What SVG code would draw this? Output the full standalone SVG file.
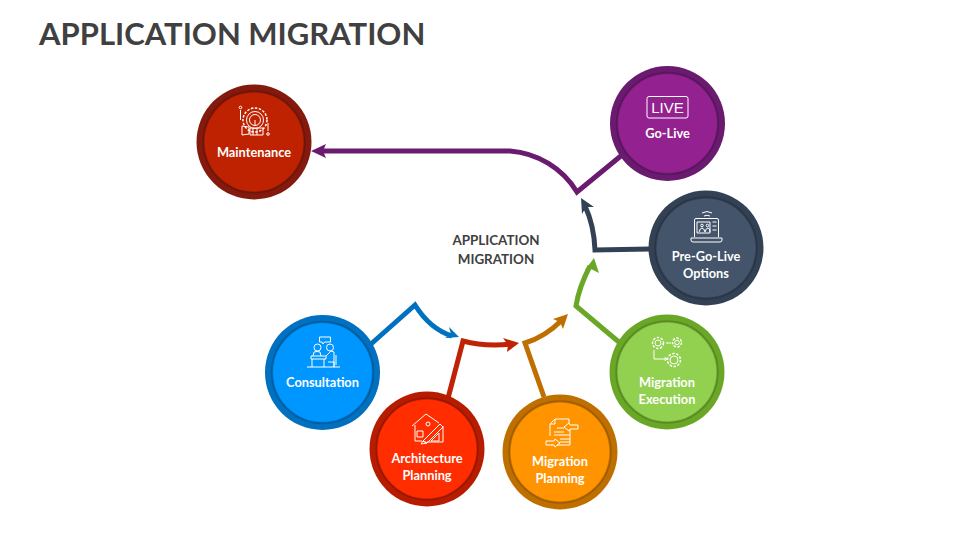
<svg xmlns="http://www.w3.org/2000/svg" width="960" height="540" viewBox="0 0 960 540">
<style>
text{font-family:"Lato","Open Sans","Liberation Sans",sans-serif;text-anchor:middle}
.t{font-size:12.800px;font-weight:700;fill:#fff}
.c{fill:none;stroke-width:5;stroke-linejoin:miter}
.i{fill:none;stroke:#fff;stroke-width:1}
.s{fill:none;stroke:#000;stroke-opacity:.16;stroke-width:2.500}
.d{stroke-dasharray:2.500 1.500;stroke-width:1.500}
</style>
<rect width="960" height="540" fill="#fff"/>
<text x="39" y="45" font-size="31" font-weight="700" fill="#404040" style="text-anchor:start">APPLICATION MIGRATION</text>
<g font-size="13.400" font-weight="700" fill="#404040"><text x="496" y="245">APPLICATION</text><text x="496" y="264">MIGRATION</text></g>
<g id="connectors">
<path class="c" stroke="#0070c0" d="M371 344L415 305Q430 329 452 336"/><path fill="#0070c0" d="M459 337L445 338L451 334L449 327Z"/>
<path class="c" stroke="#bf2205" d="M447 402L463 341Q485 347 512 344"/><path fill="#bf2205" d="M519 343L507 352L508 345L503 338Z"/>
<path class="c" stroke="#bf6f00" d="M544 397L525 343Q545 337 562 320"/><path fill="#bf6f00" d="M568 314L563 329L560 322L553 319Z"/>
<path class="c" stroke="#6aa727" d="M620 343L576 306Q579 287 590 266"/><path fill="#6aa727" d="M594 258L599 273L591 269L585 270Z"/>
<path class="c" stroke="#334155" d="M650 249L595 250Q594 225 585 206"/><path fill="#334155" d="M581 198L594 207L586 207L582 214Z"/>
<path class="c" stroke="#6a1b6f" d="M622 155L577 192A86 86 0 0 0 510 151L320 151"/><path fill="#6a1b6f" d="M311 151L326 144L323 151L326 158Z"/>
</g>
<g id="node-maintenance"><circle cx="254" cy="142" r="57.500" fill="#841a0d"/><circle cx="254" cy="142" r="50" fill="#bf2200"/><circle class="s" cx="254" cy="142" r="50.500"/>
<g class="i"><circle class="d" cx="255" cy="120" r="12"/><circle cx="255" cy="120" r="8.500"/><circle cx="255" cy="120" r="5.500"/><path d="M255 120v5M242 126l7 1v7l-7 1zM250 128h13v7h-13zM253 128v7M257 128v7M240.500 110v10M268 123v8"/><circle cx="240.500" cy="107.500" r="1.300"/><circle cx="268" cy="134" r="1.300"/></g><text class="t" x="254" y="157">Maintenance</text></g>
<g id="node-go-live"><circle cx="667.500" cy="123.500" r="57.500" fill="#6a1b6f"/><circle cx="667.500" cy="123.500" r="50" fill="#93218f"/><circle class="s" cx="667.500" cy="123.500" r="50.500"/><rect x="647" y="96.500" width="41" height="21.500" rx="2" class="i"/><text x="667.500" y="113" font-size="15" fill="#fff" style="font-family:'Liberation Sans',sans-serif">LIVE</text><text class="t" x="667.500" y="138">Go-Live</text></g>
<g id="node-pre-go-live"><circle cx="706" cy="248" r="57.500" fill="#334155"/><circle cx="706" cy="248" r="50" fill="#44546a"/><circle class="s" cx="706" cy="248" r="50.500"/>
<g class="i"><path d="M694.500 237v-17a1.500 1.500 0 0 1 1.500-1.500h21a1.500 1.500 0 0 1 1.500 1.500v17M691 238h31v2q0 2-2 2h-27q-2 0-2-2zM702 213q5-3 10 0M704 216q3-1.500 6 0M697 222h13v11h-13zM712.500 222h4M712.500 226h4M712.500 230h4M699 232q1-4 3-4t3 4M705 232q1-4 3-4t2 4"/><circle cx="702" cy="225.500" r="1.300"/><circle cx="707.500" cy="225.500" r="1.300"/></g><text class="t" x="706" y="261">Pre-Go-Live</text><text class="t" x="706" y="278">Options</text></g>
<g id="node-migration-execution"><circle cx="667" cy="372" r="57.500" fill="#6aa727"/><circle cx="667" cy="372" r="50" fill="#92d050"/><circle class="s" cx="667" cy="372" r="50.500"/>
<g class="i"><circle class="d" cx="658" cy="343" r="5.500"/><circle cx="658" cy="343" r="3"/><circle class="d" cx="677" cy="342.500" r="4.500"/><circle cx="677" cy="342.500" r="2.300"/><circle class="d" cx="674" cy="360" r="6.500"/><circle cx="674" cy="360" r="4"/><path d="M666 343h5M654 350v9h11M665 357.500l2.500 1.500-2.500 1.500z"/></g><text class="t" x="667" y="387">Migration</text><text class="t" x="667" y="404">Execution</text></g>
<g id="node-migration-planning"><circle cx="560" cy="452" r="57.500" fill="#bf6f00"/><circle cx="560" cy="452" r="50" fill="#ff9300"/><circle class="s" cx="560" cy="452" r="50.500"/>
<g class="i"><path d="M555 419h14v4M550 424l5-5v5zM550 424v12M552 445v-1M557 445h13v-15"/><path d="M557 428h7M554 432h10M554 435h16M560 439h10M560 442h10M570 425h8v4h-8l-1 2-5-4 5-4zM546 441h8l1-2 5 4-5 4-1-2h-8z"/></g><text class="t" x="560" y="466">Migration</text><text class="t" x="560" y="483">Planning</text></g>
<g id="node-architecture-planning"><circle cx="427" cy="449" r="57.500" fill="#b71c00"/><circle cx="427" cy="449" r="50" fill="#ff2d00"/><circle class="s" cx="427" cy="449" r="50.500"/>
<g class="i"><path d="M412 426l14-12 13 9M415 425v16h7M417 431h6v6h-6zM423 441l17-17 3 3-16 16zM421 444l2-3 4 2zM443 426v16h-16M431 441h8v-8z"/><circle cx="428" cy="424" r="2"/></g><text class="t" x="427" y="463">Architecture</text><text class="t" x="427" y="480">Planning</text></g>
<g id="node-consultation"><circle cx="322.500" cy="372.500" r="57.500" fill="#0070c0"/><circle cx="322.500" cy="372.500" r="50" fill="#0096ff"/><circle class="s" cx="322.500" cy="372.500" r="50.500"/>
<g class="i"><path d="M319.500 337h11v5h-6l-1.500 2-1-2h-2.500z"/><circle cx="317.500" cy="347.500" r="3.500"/><circle cx="330" cy="347.500" r="3.500"/><path d="M307 367h33M311 356h15v3h-15zM312 359v8M324 359v8M313 356l1-4q3-1 6 0l1 4M326 356l5-5 3 1v15M328 362h6v5M336 355v10"/></g><text class="t" x="322.500" y="387">Consultation</text></g>
</svg>
